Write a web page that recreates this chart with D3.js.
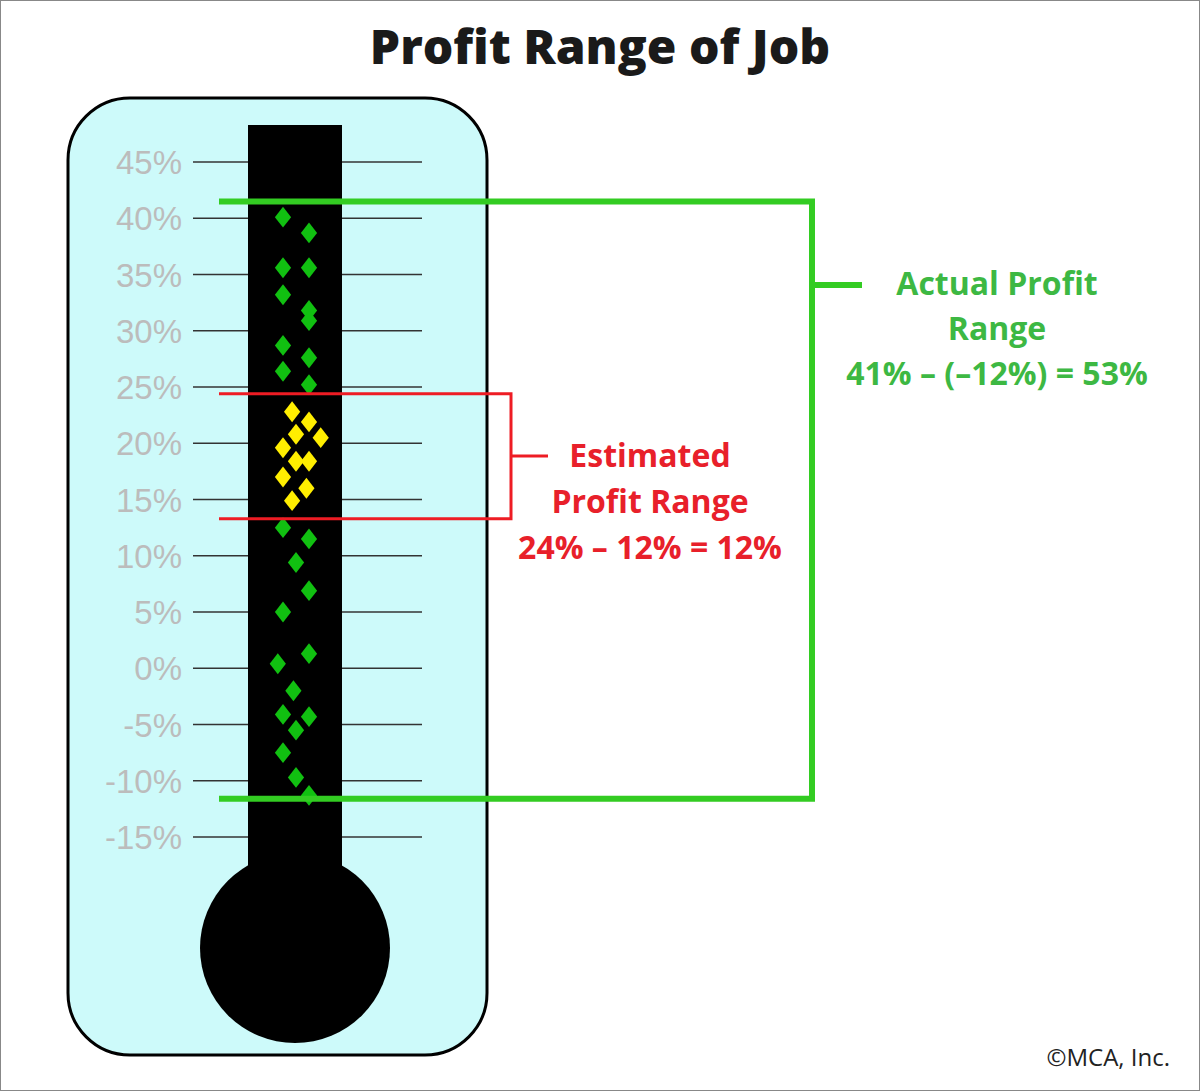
<!DOCTYPE html>
<html><head><meta charset="utf-8">
<script src="https://cdn.jsdelivr.net/npm/d3@7"></script>
<style>body{margin:0;background:#fff}</style>
</head><body>
<svg id="chart" width="1200" height="1091"></svg>
<script>
const ticks = [45, 40, 35, 30, 25, 20, 15, 10, 5, 0, -5, -10, -15]
const greenCol = [0, 1, 0, 1, 0, 1, 1, 0, 1, 0, 1, 0, 1, 0.5, 1, 0, 1, -0.2, 0.4, 0, 1, 0.5, 0, 0.5, 1]
const greenVal = [40.1, 38.7, 35.6, 35.6, 33.2, 31.8, 30.9, 28.7, 27.6, 26.4, 25.2, 12.5, 11.5, 9.4, 6.9, 5.0, 1.3, 0.4, -2.0, -4.1, -4.3, -5.5, -7.5, -9.7, -11.3]
const yellowCol = [0.35, 1, 0.5, 1.45, 0, 0.5, 1, 0, 0.9, 0.35]
const yellowVal = [22.8, 21.9, 20.8, 20.5, 19.6, 18.4, 18.4, 17.0, 16.0, 14.9]
const actualRange = [41.5, -11.6]
const estimatedRange = [24.4, 13.3]

const svg = d3.select("#chart")
const y = d3.scaleLinear().domain([45, -15]).range([162, 837])
const x = d3.scaleLinear().domain([0, 1]).range([283, 309])

svg.append("rect").attr("x", 0.5).attr("y", 0.5).attr("width", 1199).attr("height", 1090)
  .attr("fill", "#fff").attr("stroke", "#888")

svg.append("text").attr("x", 600).attr("y", 64).attr("text-anchor", "middle")
  .attr("font-family", "Open Sans").attr("font-weight", "800").attr("font-size", 48)
  .attr("fill", "#1a1a1a").text("Profit Range of Job")

svg.append("rect").attr("x", 68).attr("y", 98).attr("width", 419).attr("height", 957)
  .attr("rx", 62).attr("fill", "#cdfafa").attr("stroke", "#000").attr("stroke-width", 3)

svg.selectAll(".tick").data(ticks).join("line")
  .attr("x1", 193).attr("x2", 422).attr("y1", d => y(d)).attr("y2", d => y(d))
  .attr("stroke", "#333").attr("stroke-width", 1.5)

svg.selectAll(".lab").data(ticks).join("text")
  .attr("x", 182).attr("y", d => y(d) + 12).attr("text-anchor", "end")
  .attr("font-family", "Liberation Sans").attr("font-size", 33).attr("fill", "#bcbcbc")
  .text(d => d + "%")

svg.append("rect").attr("x", 248).attr("y", 125).attr("width", 94).attr("height", 790).attr("fill", "#000")
svg.append("circle").attr("cx", 295).attr("cy", 948).attr("r", 95).attr("fill", "#000")

const diamond = d3.symbol().type(d3.symbolDiamond).size(125)
svg.selectAll(".g").data(greenVal).join("path")
  .attr("d", diamond).attr("fill", "#11c011")
  .attr("transform", (d, i) => `translate(${x(greenCol[i])},${y(d)}) scale(1.35,1)`)
svg.selectAll(".yv").data(yellowVal).join("path")
  .attr("d", diamond).attr("fill", "#ffee00")
  .attr("transform", (d, i) => `translate(${x(yellowCol[i])},${y(d)}) scale(1.35,1)`)

// actual range bracket
const gc = "#33cc22"
const ya = actualRange.map(y)
svg.append("path").attr("fill", "none").attr("stroke", gc).attr("stroke-width", 6)
  .attr("d", `M219,${ya[0]}H812V${ya[1]}H219`)
svg.append("line").attr("x1", 812).attr("x2", 862).attr("y1", 285).attr("y2", 285)
  .attr("stroke", gc).attr("stroke-width", 6)
const gt = ["Actual Profit", "Range", "41% – (–12%) = 53%"]
svg.selectAll(".gt").data(gt).join("text")
  .attr("x", 997).attr("y", (d, i) => 295 + i * 45).attr("text-anchor", "middle")
  .attr("font-family", "Open Sans").attr("font-weight", "bold").attr("font-size", 32)
  .attr("fill", "#3db843").text(d => d)

// estimated range bracket
const rc = "#ee1c24"
const ye = estimatedRange.map(y)
svg.append("path").attr("fill", "none").attr("stroke", rc).attr("stroke-width", 3)
  .attr("d", `M219,${ye[0]}H511V${ye[1]}H219`)
svg.append("line").attr("x1", 511).attr("x2", 548).attr("y1", 456).attr("y2", 456)
  .attr("stroke", rc).attr("stroke-width", 3)
const rt = ["Estimated", "Profit Range", "24% – 12% = 12%"]
svg.selectAll(".rt").data(rt).join("text")
  .attr("x", 650).attr("y", (d, i) => 467 + i * 46).attr("text-anchor", "middle")
  .attr("font-family", "Open Sans").attr("font-weight", "bold").attr("font-size", 32)
  .attr("fill", "#e8202a").text(d => d)

svg.append("text").attr("x", 1170).attr("y", 1066).attr("text-anchor", "end")
  .attr("font-family", "Open Sans").attr("font-size", 24).attr("fill", "#222").text("©MCA, Inc.")
</script>
</body></html>
